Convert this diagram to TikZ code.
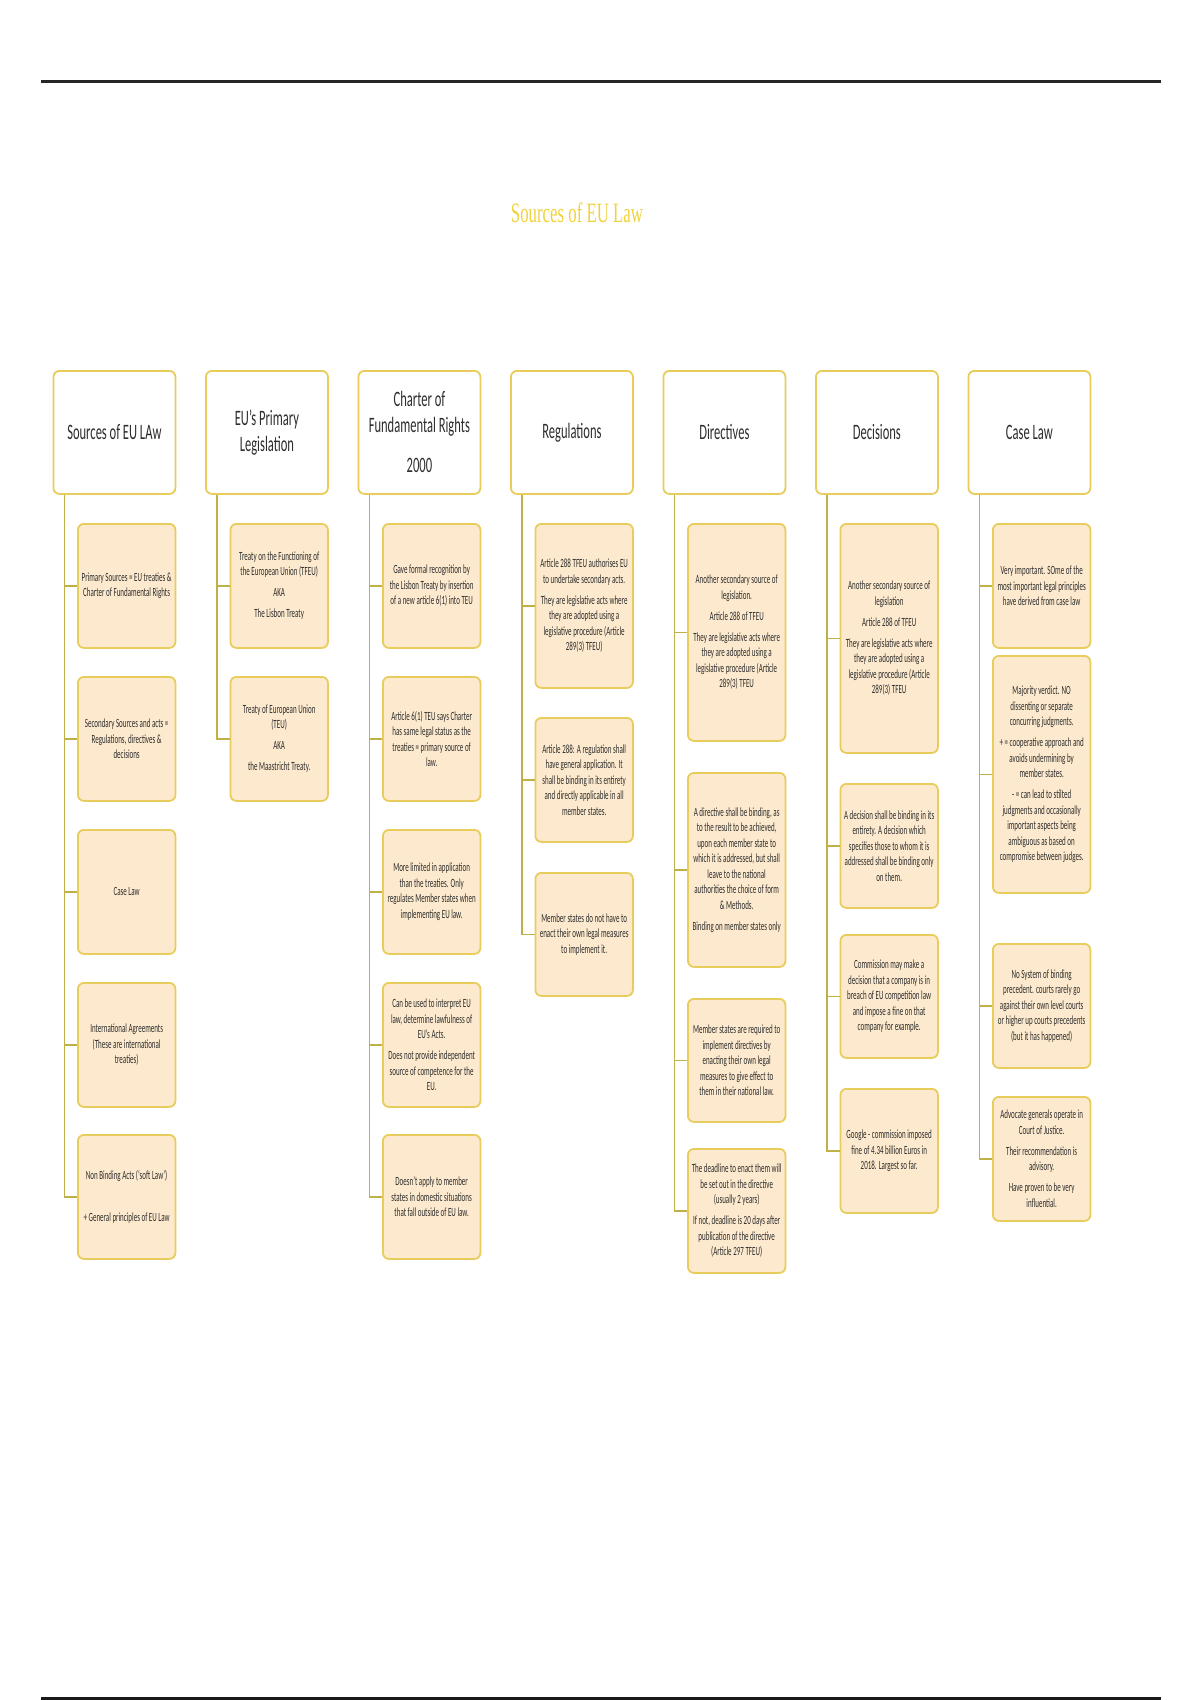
\documentclass[tikz,border=0pt]{standalone}
\usepackage{fontspec}
\setmainfont{Carlito}
\newfontfamily\titlefont{Liberation Serif}
\usepackage{graphicx}

\definecolor{boxline}{RGB}{232,204,92}
\definecolor{boxfill}{RGB}{253,234,206}
\definecolor{linkline}{RGB}{192,176,72}
\definecolor{titlegold}{RGB}{240,210,60}
\definecolor{inkgrey}{RGB}{45,45,45}

% squeezed text for the boxes
\newcommand{\headtxt}[1]{\makebox[0pt]{\scalebox{0.57}[1]{\parbox{210pt}{\centering\fontsize{22}{26}\selectfont #1}}}}
\newcommand{\boxtxt}[1]{\makebox[0pt]{\scalebox{0.56}[1]{\parbox{200pt}{\centering\fontsize{12.5}{15.5}\selectfont\setlength{\parskip}{5.5pt}#1}}}}

\tikzset{
  headbox/.style={draw=boxline, line width=1.8pt, fill=white, rounded corners=6pt,
    minimum width=122pt, minimum height=123pt, anchor=north west, inner sep=0pt, text=inkgrey},
  leafbox/.style={draw=boxline, line width=1.8pt, fill=boxfill, rounded corners=6pt,
    minimum width=97.5pt, anchor=north west, inner sep=0pt, text=inkgrey},
  link/.style={draw=linkline, line width=1.6pt}
}

\begin{document}
\begin{tikzpicture}[x=1pt, y=-1pt]

  \useasboundingbox (0,0) rectangle (1200,1700);

  % page rules and title
  \draw[line width=3pt, black!85] (41,81) -- (1161,81);
  \draw[line width=3pt, black!90] (41,1698) -- (1161,1698);
  \node[text=titlegold, font=\titlefont\fontsize{28}{30}\selectfont] (title) at (577,213) {\scalebox{0.6}[1]{Sources of EU Law}};

  % Sources of EU Law
  \begin{scope}[xshift=52.5]
    \node[headbox] (src) at (0,370) {\headtxt{Sources of EU LAw}};
    \node[leafbox, minimum height=124] (src1) at (24.5,523) {\boxtxt{Primary Sources = EU treaties \&\\ Charter of Fundamental Rights}};
    \node[leafbox, minimum height=124] (src2) at (24.5,676) {\boxtxt{Secondary Sources and acts =\\ Regulations, directives \&\\ decisions}};
    \node[leafbox, minimum height=124] (src3) at (24.5,829) {\boxtxt{Case Law}};
    \node[leafbox, minimum height=124] (src4) at (24.5,982) {\boxtxt{International Agreements\\ (These are international\\ treaties)}};
    \node[leafbox, minimum height=124] (src5) at (24.5,1134) {\boxtxt{Non Binding Acts (`soft Law')\\[26pt] + General principles of EU Law}};
  \end{scope}
  \foreach \k in {1,...,5}
    \draw[link] ([xshift=12pt]src.south west) |- (src\k.west);

  % EU's Primary Legislation
  \begin{scope}[xshift=205]
    \node[headbox] (prim) at (0,370) {\headtxt{EU's Primary\\ Legislation}};
    \node[leafbox, minimum height=124] (prim1) at (24.5,523) {\boxtxt{Treaty on the Functioning of\\ the European Union (TFEU)\par AKA\par The Lisbon Treaty}};
    \node[leafbox, minimum height=124] (prim2) at (24.5,676) {\boxtxt{Treaty of European Union\\ (TEU)\par AKA\par the Maastricht Treaty.}};
  \end{scope}
  \foreach \k in {1,2}
    \draw[link] ([xshift=12pt]prim.south west) |- (prim\k.west);

  % Charter of Fundamental Rights
  \begin{scope}[xshift=357.5]
    \node[headbox] (chart) at (0,370) {\headtxt{Charter of\\ Fundamental Rights\\[14pt] 2000}};
    \node[leafbox, minimum height=124] (chart1) at (24.5,523) {\boxtxt{Gave formal recognition by\\ the Lisbon Treaty by insertion\\ of a new article 6(1) into TEU}};
    \node[leafbox, minimum height=124] (chart2) at (24.5,676) {\boxtxt{Article 6(1) TEU says Charter\\ has same legal status as the\\ treaties = primary source of\\ law.}};
    \node[leafbox, minimum height=124] (chart3) at (24.5,829) {\boxtxt{More limited in application\\ than the treaties. Only\\ regulates Member states when\\ implementing EU law.}};
    \node[leafbox, minimum height=124] (chart4) at (24.5,982) {\boxtxt{Can be used to interpret EU\\ law, determine lawfulness of\\ EU's Acts.\par Does not provide independent\\ source of competence for the\\ EU.}};
    \node[leafbox, minimum height=124] (chart5) at (24.5,1134) {\boxtxt{Doesn't apply to member\\ states in domestic situations\\ that fall outside of EU law.}};
  \end{scope}
  \foreach \k in {1,...,5}
    \draw[link] ([xshift=12pt]chart.south west) |- (chart\k.west);

  % Regulations
  \begin{scope}[xshift=510]
    \node[headbox] (reg) at (0,370) {\headtxt{Regulations}};
    \node[leafbox, minimum height=164] (reg1) at (24.5,523) {\boxtxt{Article 288 TFEU authorises EU\\ to undertake secondary acts.\par They are legislative acts where\\ they are adopted using a\\ legislative procedure (Article\\ 289(3) TFEU)}};
    \node[leafbox, minimum height=124] (reg2) at (24.5,717) {\boxtxt{Article 288: A regulation shall\\ have general application. It\\ shall be binding in its entirety\\ and directly applicable in all\\ member states.}};
    \node[leafbox, minimum height=123] (reg3) at (24.5,872) {\boxtxt{Member states do not have to\\ enact their own legal measures\\ to implement it.}};
  \end{scope}
  \foreach \k in {1,2,3}
    \draw[link] ([xshift=12pt]reg.south west) |- (reg\k.west);

  % Directives
  \begin{scope}[xshift=662.5]
    \node[headbox] (dir) at (0,370) {\headtxt{Directives}};
    \node[leafbox, minimum height=217] (dir1) at (24.5,523) {\boxtxt{Another secondary source of\\ legislation.\par Article 288 of TFEU\par They are legislative acts where\\ they are adopted using a\\ legislative procedure (Article\\ 289(3) TFEU}};
    \node[leafbox, minimum height=194] (dir2) at (24.5,772) {\boxtxt{A directive shall be binding, as\\ to the result to be achieved,\\ upon each member state to\\ which it is addressed, but shall\\ leave to the national\\ authorities the choice of form\\ \& Methods.\par Binding on member states only}};
    \node[leafbox, minimum height=123] (dir3) at (24.5,998) {\boxtxt{Member states are required to\\ implement directives by\\ enacting their own legal\\ measures to give effect to\\ them in their national law.}};
    \node[leafbox, minimum height=124] (dir4) at (24.5,1148) {\boxtxt{The deadline to enact them will\\ be set out in the directive\\ (usually 2 years)\par If not, deadline is 20 days after\\ publication of the directive\\ (Article 297 TFEU)}};
  \end{scope}
  \foreach \k in {1,...,4}
    \draw[link] ([xshift=12pt]dir.south west) |- (dir\k.west);

  % Decisions
  \begin{scope}[xshift=815]
    \node[headbox] (dec) at (0,370) {\headtxt{Decisions}};
    \node[leafbox, minimum height=229] (dec1) at (24.5,523) {\boxtxt{Another secondary source of\\ legislation\par Article 288 of TFEU\par They are legislative acts where\\ they are adopted using a\\ legislative procedure (Article\\ 289(3) TFEU}};
    \node[leafbox, minimum height=124] (dec2) at (24.5,783) {\boxtxt{A decision shall be binding in its\\ entirety. A decision which\\ specifies those to whom it is\\ addressed shall be binding only\\ on them.}};
    \node[leafbox, minimum height=123] (dec3) at (24.5,934) {\boxtxt{Commission may make a\\ decision that a company is in\\ breach of EU competition law\\ and impose a fine on that\\ company for example.}};
    \node[leafbox, minimum height=124] (dec4) at (24.5,1088) {\boxtxt{Google - commission imposed\\ fine of 4.34 billion Euros in\\ 2018. Largest so far.}};
  \end{scope}
  \foreach \k in {1,...,4}
    \draw[link] ([xshift=12pt]dec.south west) |- (dec\k.west);

  % Case Law
  \begin{scope}[xshift=967.5]
    \node[headbox] (case) at (0,370) {\headtxt{Case Law}};
    \node[leafbox, minimum height=124] (case1) at (24.5,523) {\boxtxt{Very important. SOme of the\\ most important legal principles\\ have derived from case law}};
    \node[leafbox, minimum height=237] (case2) at (24.5,655) {\boxtxt{Majority verdict. NO\\ dissenting or separate\\ concurring judgments.\par + = cooperative approach and\\ avoids undermining by\\ member states.\par - = can lead to stilted\\ judgments and occasionally\\ important aspects being\\ ambiguous as based on\\ compromise between judges.}};
    \node[leafbox, minimum height=124] (case3) at (24.5,943) {\boxtxt{No System of binding\\ precedent. courts rarely go\\ against their own level courts\\ or higher up courts precedents\\ (but it has happened)}};
    \node[leafbox, minimum height=124] (case4) at (24.5,1096) {\boxtxt{Advocate generals operate in\\ Court of Justice.\par Their recommendation is\\ advisory.\par Have proven to be very\\ influential.}};
  \end{scope}
  \foreach \k in {1,...,4}
    \draw[link] ([xshift=12pt]case.south west) |- (case\k.west);

\end{tikzpicture}
\end{document}
